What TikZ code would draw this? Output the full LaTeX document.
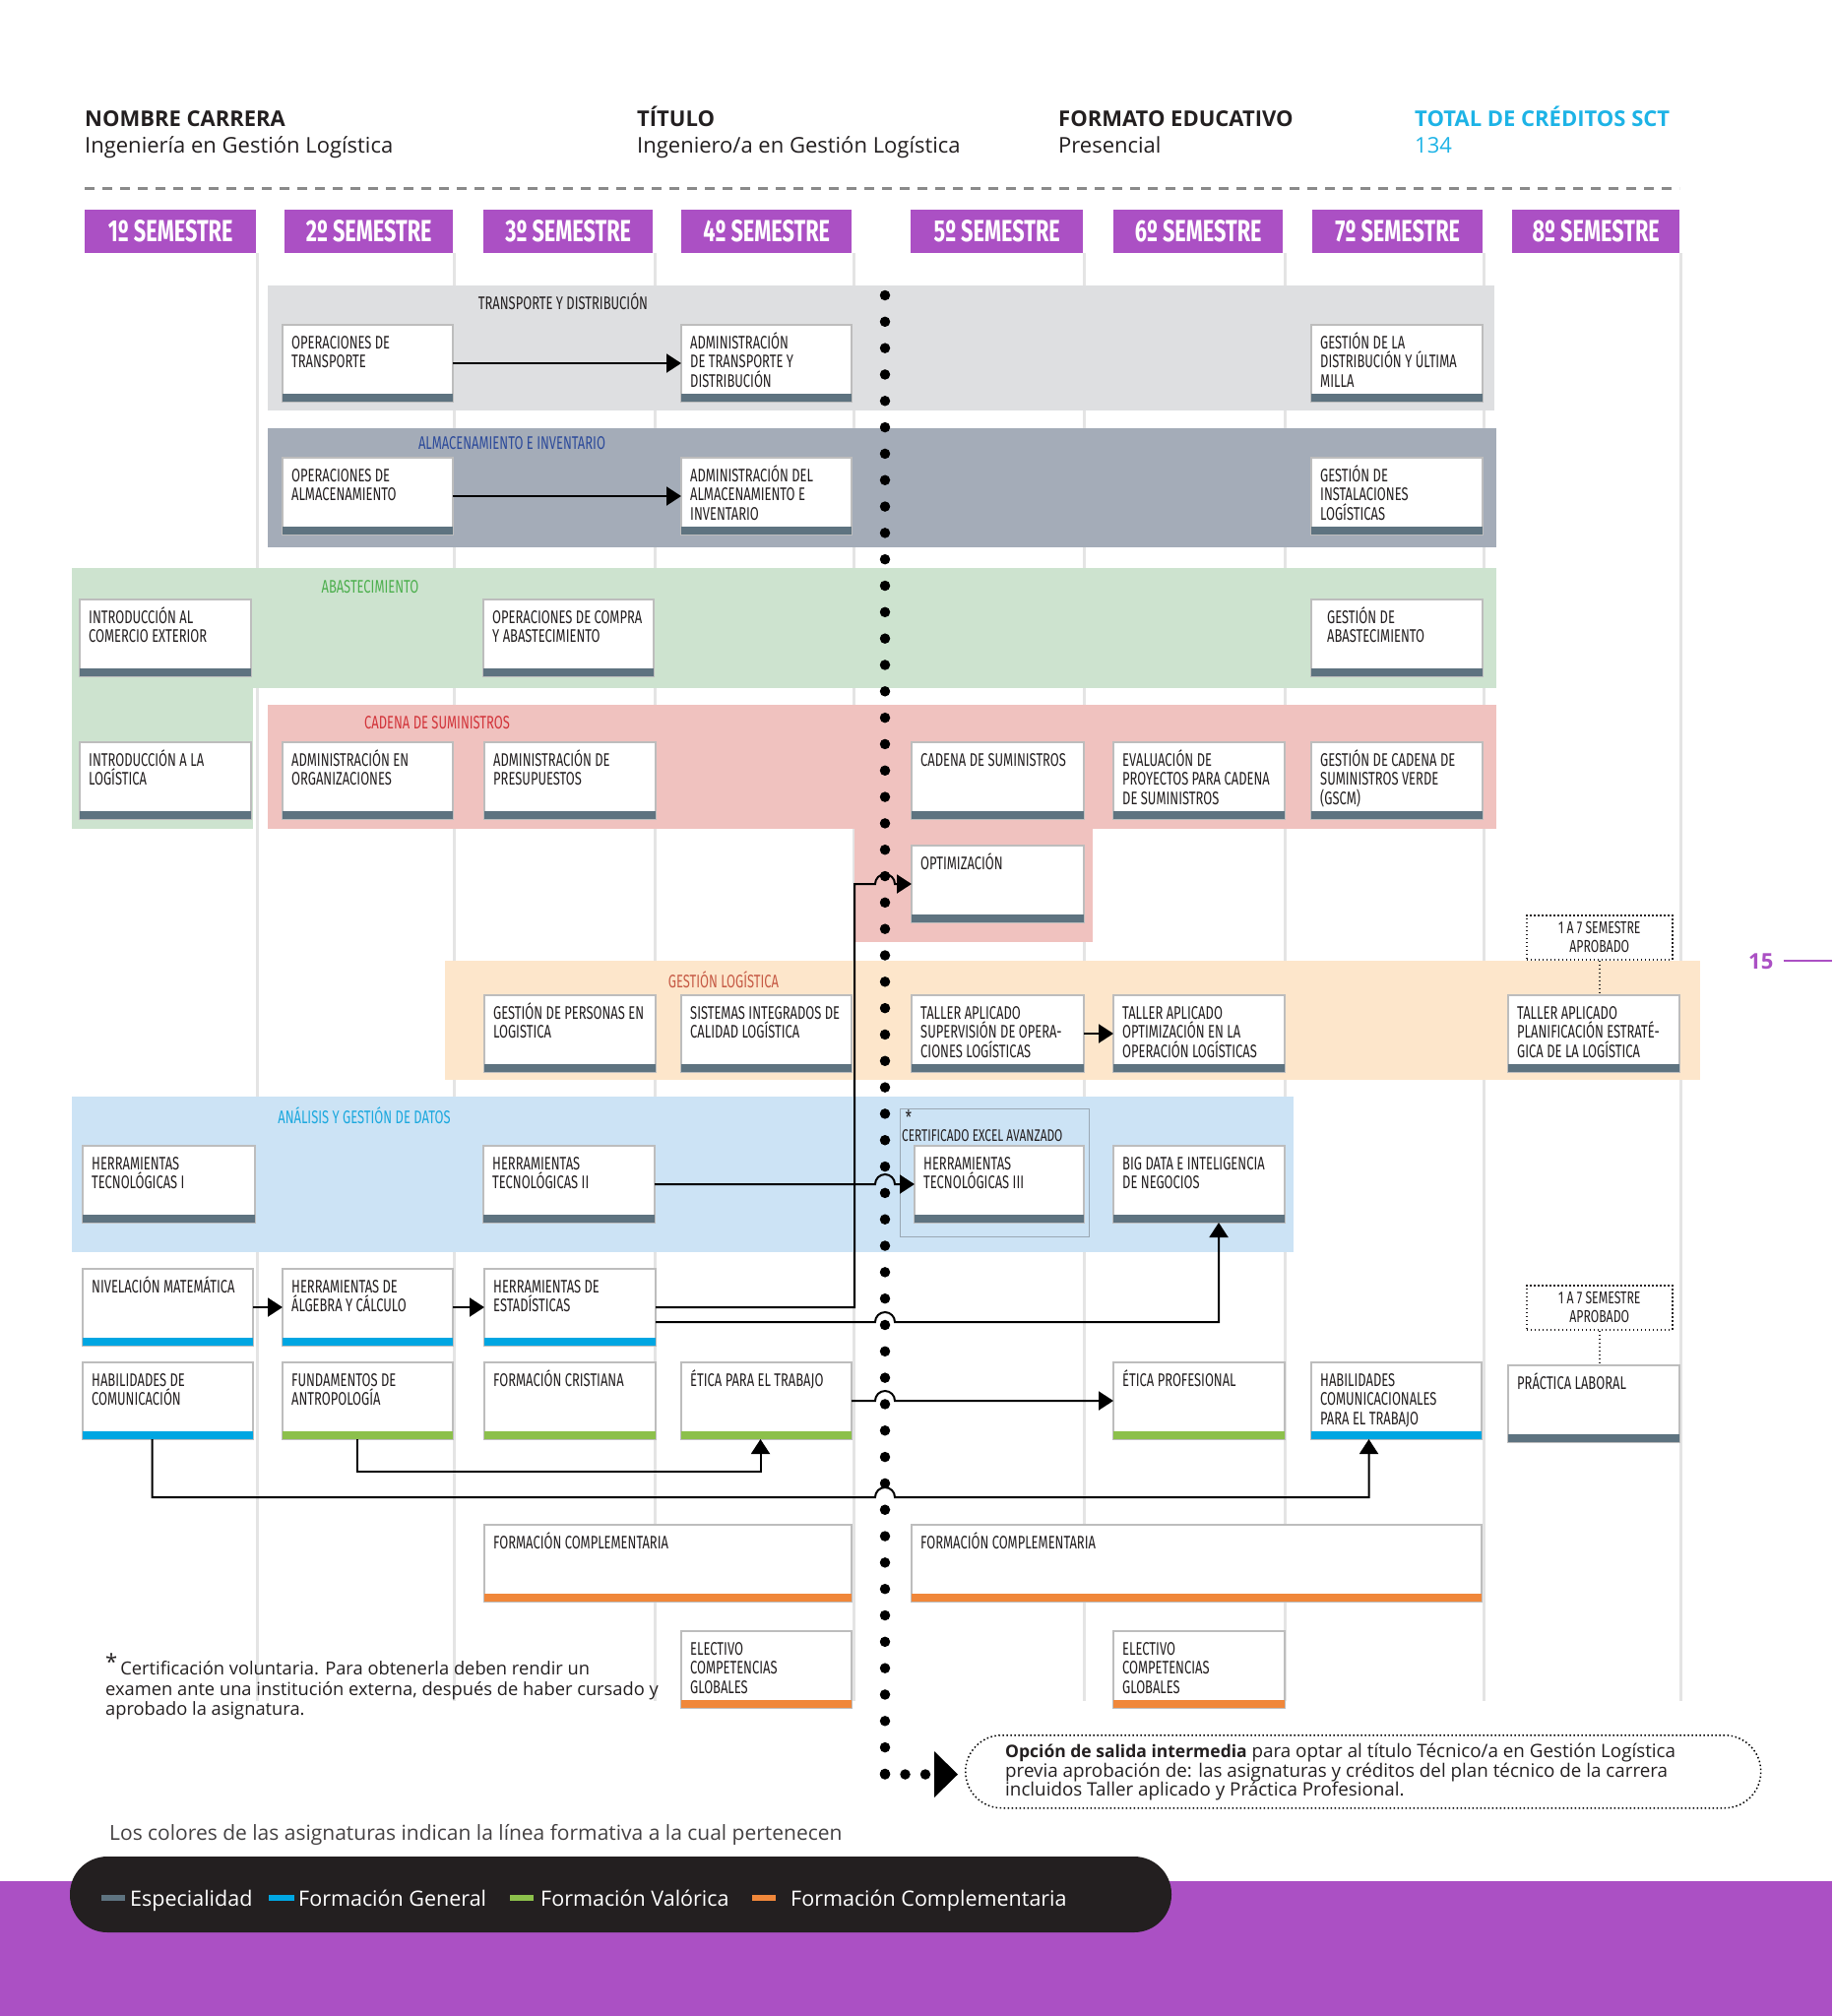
\documentclass[tikz,border=0pt]{standalone}
\usepackage{fontspec}
\setmainfont{Open Sans}
\newfontfamily\cnd[FakeStretch=0.7]{Fira Sans}
\usetikzlibrary{arrows.meta,calc}
\definecolor{purp}{HTML}{AB50C4}
\definecolor{slate}{HTML}{5E7380}
\definecolor{bblue}{HTML}{00A6E2}
\definecolor{bgreen}{HTML}{8CC04B}
\definecolor{borange}{HTML}{F0873A}
\definecolor{bandT}{HTML}{DEDFE1}
\definecolor{bandA}{HTML}{A4ACB8}
\definecolor{bandG}{HTML}{CDE3CF}
\definecolor{bandC}{HTML}{F0C2BF}
\definecolor{bandL}{HTML}{FDE6CB}
\definecolor{bandD}{HTML}{CCE3F5}
\definecolor{gridc}{HTML}{E4E4E4}
\definecolor{txt}{HTML}{231F20}
\definecolor{boxl}{HTML}{BDBDBD}
\definecolor{lblue}{HTML}{2C4A9A}
\definecolor{lgreen}{HTML}{4DAF4E}
\definecolor{lred}{HTML}{D2343A}
\definecolor{lbrown}{HTML}{C65A45}
\definecolor{lcyan}{HTML}{1BA8DE}
\definecolor{hcyan}{HTML}{1DB3E6}
\definecolor{pillc}{HTML}{231F20}
\definecolor{framec}{HTML}{9AA8B4}
\definecolor{dashc}{HTML}{8A8A8A}
\newcommand\cstrut{\rule{0pt}{17pt}}
\tikzset{
  gridl/.style={draw=gridc, line width=3pt},
  cbox/.style={draw=boxl, line width=1.4pt, fill=white, minimum height=78pt, anchor=north west, inner sep=0pt, outer sep=0pt},
  ctext/.style={font=\cnd\fontsize{18.5}{19.5}\selectfont, text=txt, align=left, inner sep=0pt, anchor=north west},
  blab/.style={font=\cnd\fontsize{18.5}{19.5}\selectfont, inner sep=0pt},
  semb/.style={fill=purp, text=white, minimum height=44pt, anchor=north west, inner sep=0pt, font=\cnd\bfseries\fontsize{31}{31}\selectfont},
  arr/.style={draw=black, line width=2pt, -{Triangle[length=15pt,width=19pt]}},
  hd/.style={font=\fontsize{22}{26}\selectfont, inner sep=0pt, anchor=base west, text=txt},
  dotl/.style={draw=black, line width=10.5pt, line cap=round, dash pattern=on 0pt off 26.82pt},
  dotlh/.style={draw=black, line width=10.5pt, line cap=round, dash pattern=on 0pt off 20.5pt},
  prebox/.style={draw=txt, line width=1.5pt, dash pattern=on 1.5pt off 2.5pt, minimum width=148pt, minimum height=45pt, anchor=north west, inner sep=0pt, align=center, font=\cnd\fontsize{17.5}{19}\selectfont, text=txt},
  predot/.style={draw=txt, line width=1.5pt, dash pattern=on 1.5pt off 2.5pt},
  legt/.style={font=\fontsize{21.5}{24}\selectfont, text=white, inner sep=0pt, anchor=base west},
  note/.style={font=\fontsize{18.3}{20.5}\selectfont, text=txt, inner sep=0pt, anchor=north west, align=left},
}
\newcommand\crs[6]{%
  \node[cbox, minimum width=#4pt] (#1) at (#2,#3) {};
  \fill[#5] ([yshift=8pt]#1.south west) rectangle (#1.south east);
  \node[ctext] (#1t) at ([xshift=9pt,yshift=-7pt]#1.north west) {\cstrut#6};
}
\newcommand\semh[4]{\node[semb, minimum width=#3pt] (#1) at (#2,213) {#4};}
\begin{document}
\begin{tikzpicture}[x=1pt,y=-1pt]
\useasboundingbox (0,0) rectangle (1861,2048);
\fill[white] (0,0) rectangle (1861,2048);

% header
\node[hd] (hn1) at (86,128) {\bfseries NOMBRE CARRERA};
\node[hd] (hn2) at (86,155) {Ingeniería en Gestión Logística};
\node[hd] (ht1) at (647,128) {\bfseries TÍTULO};
\node[hd] (ht2) at (647,155) {Ingeniero/a en Gestión Logística};
\node[hd] (hf1) at (1075,128) {\bfseries FORMATO EDUCATIVO};
\node[hd] (hf2) at (1075,155) {Presencial};
\node[hd, text=hcyan] (hc1) at (1437,128) {\bfseries TOTAL DE CRÉDITOS SCT};
\node[hd, text=hcyan] (hc2) at (1437,155) {134};
\draw[draw=dashc, line width=3pt, dash pattern=on 10pt off 8pt] (86,191) -- (1706,191);

% semester headers
\semh{s1}{86}{174}{1º SEMESTRE}
\semh{s2}{289}{171}{2º SEMESTRE}
\semh{s3}{491}{172}{3º SEMESTRE}
\semh{s4}{692}{173}{4º SEMESTRE}
\semh{s5}{925}{175}{5º SEMESTRE}
\semh{s6}{1131}{172}{6º SEMESTRE}
\semh{s7}{1333}{173}{7º SEMESTRE}
\semh{s8}{1536}{170}{8º SEMESTRE}

% grid lines
\foreach \gx in {261,461,665,867,1101,1305,1507,1707}
  \draw[gridl] (\gx,257) -- (\gx,1728);

% bands
\fill[bandT] (272,290) rectangle (1518,417);
\fill[bandA] (272,435) rectangle (1520,556);
\fill[bandG] (73,577) rectangle (1520,699);
\fill[bandG] (73,699) rectangle (257,842);
\fill[bandC] (272,716) rectangle (1520,842);
\fill[bandC] (868,842) rectangle (1110,957);
\fill[bandL] (452,976) rectangle (1727,1097);
\fill[bandD] (73,1114) rectangle (1314,1272);

\node[blab, text=txt] (lT) at (572,306) {TRANSPORTE Y DISTRIBUCIÓN};
\node[blab, text=lblue] (lA) at (520,450) {ALMACENAMIENTO E INVENTARIO};
\node[blab, text=lgreen] (lG) at (376,596) {ABASTECIMIENTO};
\node[blab, text=lred] (lC) at (444,734) {CADENA DE SUMINISTROS};
\node[blab, text=lbrown] (lL) at (735,995) {GESTIÓN LOGÍSTICA};
\node[blab, text=lcyan] (lD) at (370,1133) {ANÁLISIS Y GESTIÓN DE DATOS};

% certificate frame
\node[draw=framec, line width=1.2pt, minimum width=192pt, minimum height=130pt, anchor=north west, inner sep=0pt] (cert) at (914,1126) {};
\node[font=\cnd\fontsize{20}{20}\selectfont, inner sep=0pt, text=txt] (certs) at (923,1135) {*};
\node[font=\cnd\fontsize{17}{19}\selectfont, inner sep=0pt, anchor=west, text=txt] (certl) at (916,1154) {CERTIFICADO EXCEL AVANZADO};

% courses
\crs{opt}{287}{330}{173}{slate}{OPERACIONES DE\\TRANSPORTE}
\crs{adt}{692}{330}{173}{slate}{ADMINISTRACIÓN\\DE TRANSPORTE Y\\DISTRIBUCIÓN}
\crs{gdum}{1332}{330}{174}{slate}{GESTIÓN DE LA\\DISTRIBUCIÓN Y ÚLTIMA\\MILLA}
\crs{opa}{287}{465}{173}{slate}{OPERACIONES DE\\ALMACENAMIENTO}
\crs{ada}{692}{465}{173}{slate}{ADMINISTRACIÓN DEL\\ALMACENAMIENTO E\\INVENTARIO}
\crs{gil}{1332}{465}{174}{slate}{GESTIÓN DE\\INSTALACIONES\\LOGÍSTICAS}
\crs{ice}{81}{609}{174}{slate}{INTRODUCCIÓN AL\\COMERCIO EXTERIOR}
\crs{oca}{491}{609}{173}{slate}{OPERACIONES DE COMPRA\\Y ABASTECIMIENTO}
\crs{gab}{1332}{609}{174}{slate}{\hspace{7pt}GESTIÓN DE\\\hspace*{7pt}ABASTECIMIENTO}
\crs{ilo}{81}{754}{174}{slate}{INTRODUCCIÓN A LA\\LOGÍSTICA}
\crs{aor}{287}{754}{173}{slate}{ADMINISTRACIÓN EN\\ORGANIZACIONES}
\crs{apr}{492}{754}{174}{slate}{ADMINISTRACIÓN DE\\PRESUPUESTOS}
\crs{cds}{926}{754}{175}{slate}{CADENA DE SUMINISTROS}
\crs{epc}{1131}{754}{174}{slate}{EVALUACIÓN DE\\PROYECTOS PARA CADENA\\DE SUMINISTROS}
\crs{gcv}{1332}{754}{174}{slate}{GESTIÓN DE CADENA DE\\SUMINISTROS VERDE\\(GSCM)}
\crs{optz}{926}{859}{175}{slate}{OPTIMIZACIÓN}
\crs{gpl}{492}{1011}{174}{slate}{GESTIÓN DE PERSONAS EN\\LOGISTICA}
\crs{sic}{692}{1011}{173}{slate}{SISTEMAS INTEGRADOS DE\\CALIDAD LOGÍSTICA}
\crs{tas}{926}{1011}{175}{slate}{TALLER APLICADO\\SUPERVISIÓN DE OPERA-\\CIONES LOGÍSTICAS}
\crs{tao}{1131}{1011}{174}{slate}{TALLER APLICADO\\OPTIMIZACIÓN EN LA\\OPERACIÓN LOGÍSTICAS}
\crs{tap}{1532}{1011}{174}{slate}{TALLER APLICADO\\PLANIFICACIÓN ESTRATÉ-\\GICA DE LA LOGÍSTICA}
\crs{hta}{84}{1164}{175}{slate}{HERRAMIENTAS\\TECNOLÓGICAS I}
\crs{htb}{491}{1164}{174}{slate}{HERRAMIENTAS\\TECNOLÓGICAS II}
\crs{htc}{929}{1164}{172}{slate}{HERRAMIENTAS\\TECNOLÓGICAS III}
\crs{bdi}{1131}{1164}{174}{slate}{BIG DATA E INTELIGENCIA\\DE NEGOCIOS}
\crs{nma}{84}{1289}{173}{bblue}{NIVELACIÓN MATEMÁTICA}
\crs{hac}{287}{1289}{173}{bblue}{HERRAMIENTAS DE\\ÁLGEBRA Y CÁLCULO}
\crs{hes}{492}{1289}{174}{bblue}{HERRAMIENTAS DE\\ESTADÍSTICAS}
\crs{hco}{84}{1384}{173}{bblue}{HABILIDADES DE\\COMUNICACIÓN}
\crs{fan}{287}{1384}{173}{bgreen}{FUNDAMENTOS DE\\ANTROPOLOGÍA}
\crs{fcr}{492}{1384}{174}{bgreen}{FORMACIÓN CRISTIANA}
\crs{etr}{692}{1384}{173}{bgreen}{ÉTICA PARA EL TRABAJO}
\crs{epr}{1131}{1384}{174}{bgreen}{ÉTICA PROFESIONAL}
\crs{hct}{1332}{1384}{173}{bblue}{HABILIDADES\\COMUNICACIONALES\\PARA EL TRABAJO}
\crs{pla}{1532}{1387}{174}{slate}{PRÁCTICA LABORAL}
\crs{fca}{492}{1549}{373}{borange}{FORMACIÓN COMPLEMENTARIA}
\crs{fcb}{926}{1549}{579}{borange}{FORMACIÓN COMPLEMENTARIA}
\crs{ela}{692}{1657}{173}{borange}{ELECTIVO\\COMPETENCIAS\\GLOBALES}
\crs{elb}{1131}{1657}{174}{borange}{ELECTIVO\\COMPETENCIAS\\GLOBALES}

% prerequisite notes
\node[prebox] (pra) at (1550,929) {1 A 7 SEMESTRE\\APROBADO};
\node[prebox] (prb) at (1550,1305) {1 A 7 SEMESTRE\\APROBADO};
\draw[predot] (pra.south) -- (pra.south |- tap.north);
\draw[predot] (prb.south) -- (prb.south |- pla.north);

% dotted exit line
\coordinate (d0) at (899,300);
\coordinate (d1) at (899,1802.5);
\coordinate (d2) at (942,1802.5);
\coordinate (dx) at (899,0);
\draw[dotl] (d0) -- (d1);
\draw[dotlh] (d1) -- (d2);
\node[draw=black, line width=1.5pt, dash pattern=on 1.5pt off 2.5pt, rounded corners=37pt, minimum width=808pt, minimum height=74pt, anchor=north west, inner sep=0pt] (exit) at (980,1762) {};
\fill[black] (949,1779) -- (973,1802.5) -- (949,1826) -- cycle;
\node[note, font=\fontsize{18.8}{19.8}\selectfont] (exitt) at (1021,1768) {\cstrut{\fontsize{17.5}{19.8}\selectfont\bfseries Opción de salida intermedia} para optar al título Técnico/a en Gestión Logística\\previa aprobación de: las asignaturas y créditos del plan técnico de la carrera\\incluidos Taller aplicado y Práctica Profesional.};

% arrows
\draw[arr] (opt.east) -- (adt.west);
\draw[arr] (opa.east) -- (ada.west);
\draw[arr] (tas.east) -- (tao.west);
\draw[arr] (nma.east) -- (hac.west);
\draw[arr] (hac.east) -- (hes.west);
\coordinate (h4) at (htb.east -| dx);
\draw[arr] (htb.east) -- ([xshift=-10pt]h4) arc[start angle=180, end angle=0, radius=10pt] -- (htc.west);
\coordinate (k7) at (868,0);
\coordinate (h7) at (optz.west -| dx);
\draw[arr] (hes.east) -- (hes.east -| k7) -- (k7 |- optz.west) -- ([xshift=-10pt]h7) arc[start angle=180, end angle=0, radius=10pt] -- (optz.west);
\coordinate (e8) at ([yshift=-15pt]hes.east);
\coordinate (k8) at (1238,0);
\coordinate (h8) at (e8 -| dx);
\draw[arr] (e8) -- ([xshift=-10pt]h8) arc[start angle=180, end angle=0, radius=10pt] -- (e8 -| k8) -- (k8 |- bdi.south);
\coordinate (h9) at (etr.east -| dx);
\draw[arr] (etr.east) -- ([xshift=-10pt]h9) arc[start angle=180, end angle=0, radius=10pt] -- (epr.west);
\draw[arr] ([xshift=-11pt]fan.south) -- ++(0,33) -| ([xshift=-6pt]etr.south);
\coordinate (s11) at ([xshift=-16pt]hco.south);
\coordinate (t11) at ([xshift=-28pt]hct.south);
\coordinate (m11) at ($(s11)+(0,59)$);
\coordinate (h11) at (m11 -| dx);
\draw[arr] (s11) -- (m11) -- ([xshift=-10pt]h11) arc[start angle=180, end angle=0, radius=10pt] -- (m11 -| t11) -- (t11);

% footnote
\node[note] (fn) at (107,1680) {\cstrut\raisebox{5pt}{\fontsize{22}{22}\selectfont *}\,Certificación voluntaria. Para obtenerla deben rendir un\\examen ante una institución externa, después de haber cursado y\\aprobado la asignatura.};

% page number
\node[font=\bfseries\fontsize{22}{24}\selectfont, text=purp, inner sep=0pt, anchor=base west] (pg) at (1776,984) {15};
\coordinate (pgl) at (1861,976);
\draw[purp, line width=2pt] (pg.east |- pgl) ++(10,0) -- (pgl);

% legend
\node[font=\fontsize{21}{24}\selectfont, text=txt!85, inner sep=0pt, anchor=base west] (legh) at (111,1869) {Los colores de las asignaturas indican la línea formativa a la cual pertenecen};
\fill[purp] (0,1911) rectangle (1861,2048);
\fill[pillc, rounded corners=38pt] (71,1886) rectangle (1190,1963);
\fill[slate] (103,1925) rectangle (127,1931);
\node[legt] (lg1) at (132,1936) {Especialidad};
\fill[bblue] (273,1925) rectangle (299,1931);
\node[legt] (lg2) at (303,1936) {Formación General};
\fill[bgreen] (518,1925) rectangle (542,1931);
\node[legt] (lg3) at (549,1936) {Formación Valórica};
\fill[borange] (764,1925) rectangle (788,1931);
\node[legt] (lg4) at (803,1936) {Formación Complementaria};
\end{tikzpicture}
\end{document}
